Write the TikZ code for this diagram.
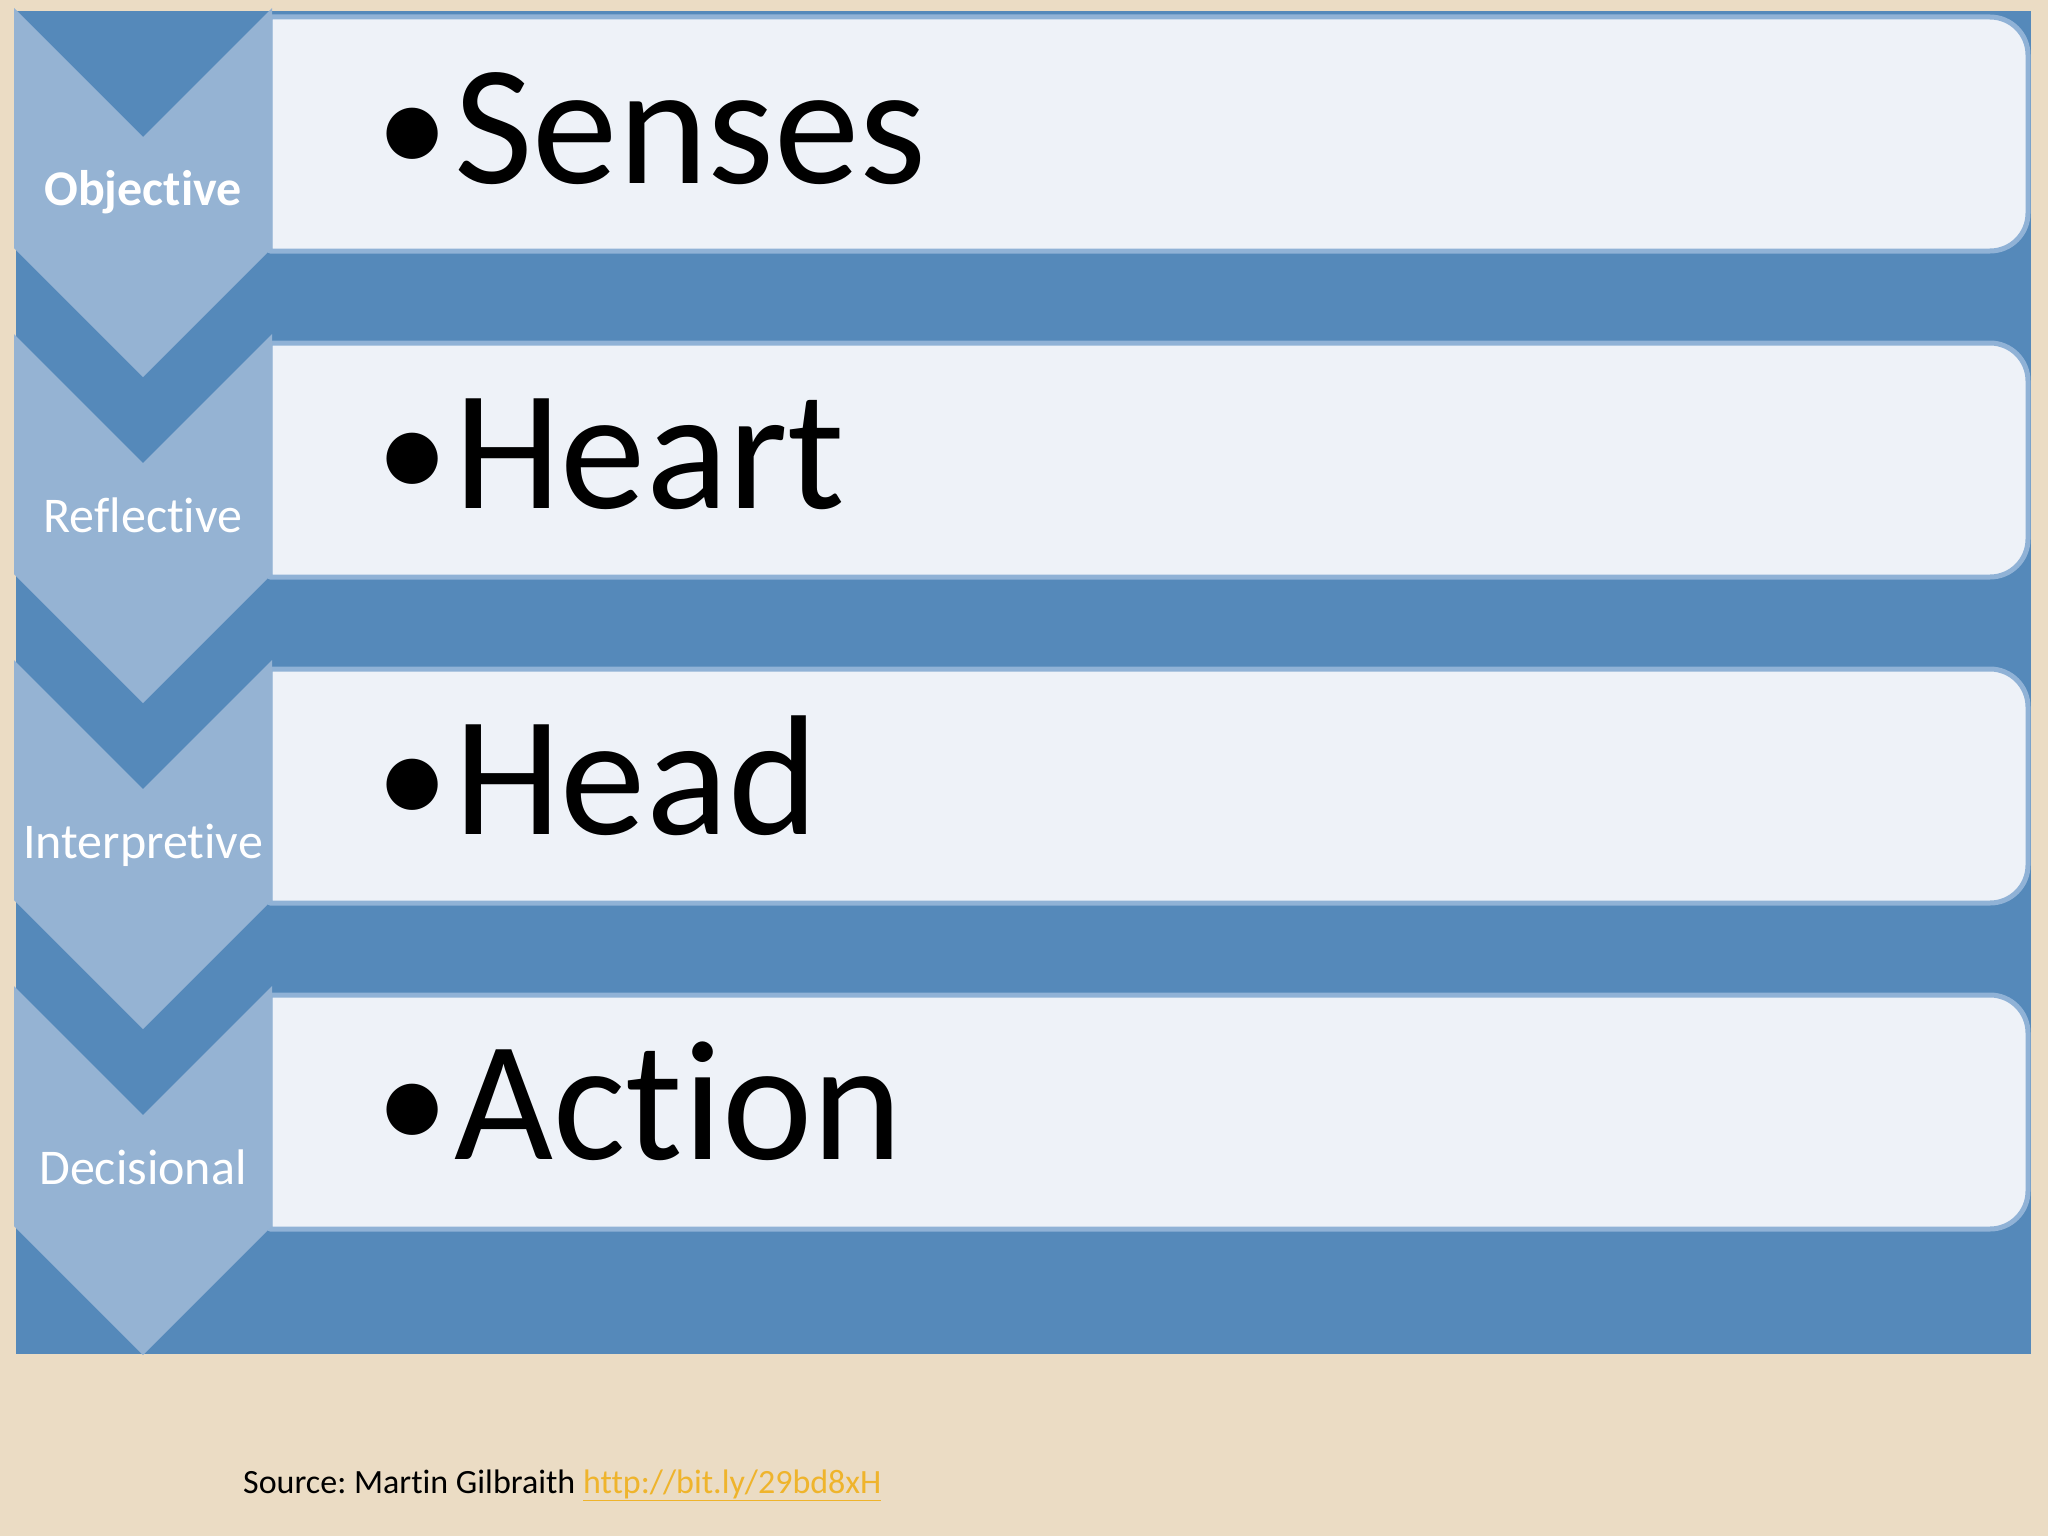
\documentclass[tikz,border=0pt]{standalone}
\usepackage{fontspec}
\setmainfont{Carlito}[RawFeature={-liga}]
\frenchspacing
\definecolor{bgbeige}{HTML}{EBDCC4}
\definecolor{darkblue}{HTML}{5589BA}
\definecolor{lightblue}{HTML}{95B3D3}
\definecolor{boxfill}{HTML}{EEF2F8}
\definecolor{boxline}{HTML}{90B2D6}
\definecolor{linkcol}{HTML}{EFB42C}
\newcommand{\mybul}{\raisebox{9pt}{\fontsize{145}{150}\selectfont •}\hspace{6pt}}
\tikzset{
  chev/.style={fill=lightblue, draw=none},
  itembox/.style={fill=boxfill, draw=boxline, line width=5pt, line join=round},
  bigitem/.style={anchor=base west, inner sep=0pt, text=black, font=\fontsize{171}{180}\selectfont},
  chevlabel/.style={anchor=base, inner sep=0pt, text=white, font=\fontsize{50}{56}\selectfont},
  srctext/.style={anchor=base west, inner sep=0pt, text=black, font=\fontsize{34}{40}\selectfont}
}
\begin{document}
\begin{tikzpicture}[x=1pt,y=-1pt]
\useasboundingbox (0,0) rectangle (2048,1536);
\fill[bgbeige] (0,0) rectangle (2048,1536);
% dark blue band
\fill[darkblue] (16,11) rectangle (2031,1354);
% item boxes (right corners rounded)
\foreach \k in {0,1,2,3}{
  \pgfmathsetmacro{\top}{17+326*\k}
  \pgfmathsetmacro{\bot}{251+326*\k}
  \draw[itembox] (270,\bot) -- (270,\top) -- (1990,\top) arc[start angle=-90, end angle=0, radius=38] -- (2028,\bot-38) arc[start angle=0, end angle=90, radius=38] -- cycle;
}
% chevrons
\foreach \k in {0,1,2,3}{
  \pgfmathsetmacro{\t}{8+326*\k}
  \fill[chev] (14,\t) -- (143,\t+129) -- (272,\t) -- (272,\t+240) -- (143,\t+369) -- (14,\t+240) -- cycle;
}
% chevron labels
\node[chevlabel, font=\fontsize{50}{56}\selectfont\bfseries] (l1) at (143,205) {Objective};
\node[chevlabel] (l2) at (143,532) {Reflective};
\node[chevlabel] (l3) at (143,858) {Interpretive};
\node[chevlabel] (l4) at (143,1184) {Decisional};
% item texts
\node[bigitem] (t1) at (376,183) {\mybul Senses};
\node[bigitem] (t2) at (376,508) {\mybul Heart};
\node[bigitem] (t3) at (376,834) {\mybul Head};
\node[bigitem] (t4) at (376,1159) {\mybul Action};
% source
\node[srctext] (src) at (243,1493) {Source: Martin Gilbraith {\color{linkcol}\underline{http://bit.ly/29bd8xH}}};
\end{tikzpicture}
\end{document}
